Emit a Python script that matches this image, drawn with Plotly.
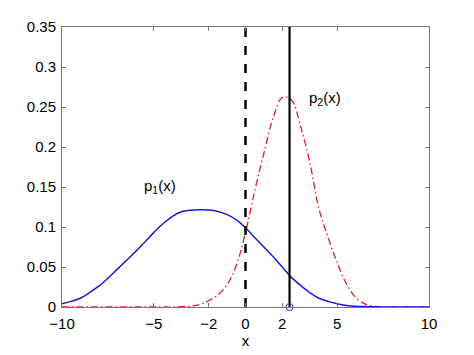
import plotly.graph_objects as go

x_vals = [-10, -9.5, -9, -8.5, -8, -7.5, -7, -6.5, -6, -5.5, -5, -4.5, -4, -3.5, -3, -2.5, -2, -1.5, -1, -0.5,
          0, 0.5, 1, 1.5, 2, 2.5, 3, 3.5, 4, 4.5, 5, 5.5, 6, 6.5, 7, 7.5, 8, 8.5, 9, 9.5, 10]
p1_vals = [0.004, 0.007, 0.011, 0.018, 0.026, 0.036, 0.047, 0.058, 0.069, 0.081, 0.093, 0.104, 0.113, 0.119,
           0.1210, 0.1215, 0.1212, 0.1195, 0.1155, 0.109, 0.099, 0.087, 0.075, 0.063, 0.050, 0.037, 0.027,
           0.018, 0.011, 0.007, 0.004, 0.002, 0.001, 0.0005, 0.0002, 0, 0, 0, 0, 0, 0]
p2_vals = [0, 0, 0, 0, 0, 0, 0, 0, 0, 0, 0, 0, 0, 0.0005, 0.001, 0.003, 0.008, 0.015, 0.028, 0.052,
           0.093, 0.145, 0.192, 0.236, 0.262, 0.259, 0.226, 0.181, 0.123, 0.087, 0.055, 0.029, 0.012,
           0.004, 0.001, 0, 0, 0, 0, 0, 0]
threshold_x = 2.4
x_ticks = [-10, -5, -2, 0, 2, 5, 10]
y_ticks = [0, 0.05, 0.1, 0.15, 0.2, 0.25, 0.3, 0.35]
y_tick_text = ["0", "0.05", "0.1", "0.15", "0.2", "0.25", "0.3", "0.35"]

fig = go.Figure()
fig.add_trace(go.Scatter(x=x_vals, y=p2_vals, mode="lines",
                         line=dict(color="#e0202a", width=1.3, dash="7px,3px,1.5px,3px", shape="spline"),
                         hoverinfo="skip"))
fig.add_trace(go.Scatter(x=x_vals, y=p1_vals, mode="lines",
                         line=dict(color="#1a1ad0", width=1.5, shape="spline"), hoverinfo="skip"))
fig.add_trace(go.Scatter(x=[0, 0], y=[0, 0.35], mode="lines",
                         line=dict(color="black", width=2.5, dash="dash"), hoverinfo="skip"))
fig.add_trace(go.Scatter(x=[threshold_x, threshold_x], y=[0, 0.35], mode="lines",
                         line=dict(color="black", width=2.2), hoverinfo="skip"))
fig.add_trace(go.Scatter(x=[threshold_x], y=[0], mode="markers",
                         marker=dict(symbol="circle-open", size=7, color="#3030c0", line=dict(width=1)),
                         hoverinfo="skip", cliponaxis=False))

fig.add_annotation(x=-4.65, y=0.151, text="p<sub>1</sub>(x)", showarrow=False,
                   font=dict(size=15, color="black"))
fig.add_annotation(x=4.35, y=0.261, text="p<sub>2</sub>(x)", showarrow=False,
                   font=dict(size=15, color="black"))

axis_common = dict(showline=True, linecolor="#777", linewidth=1, mirror="ticks", ticks="inside",
                   ticklen=4, tickcolor="#777", showgrid=False, zeroline=False,
                   tickfont=dict(size=15, color="black"))
fig.update_xaxes(range=[-10, 10], tickvals=x_ticks, ticktext=[str(t).replace("-", "\u2212") for t in x_ticks],
                 ticklabelstandoff=3,
                 title=dict(text="x", font=dict(size=15, color="black"), standoff=0), **axis_common)
fig.update_yaxes(range=[0, 0.35], tickvals=y_ticks, ticktext=y_tick_text, ticklabelstandoff=2, **axis_common)

fig.update_layout(width=474, height=355, margin=dict(l=62, r=45, t=27, b=41),
                  plot_bgcolor="white", paper_bgcolor="white", showlegend=False,
                  font=dict(family="Liberation Sans, Arial, sans-serif", color="black"))

fig.write_html("out.html")
